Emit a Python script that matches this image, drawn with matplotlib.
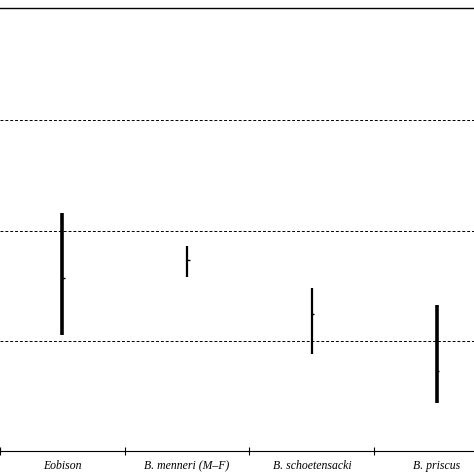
import matplotlib.pyplot as plt

# range bars (min, max) and mean marks per taxon
taxa = ["Eobison", "B. menneri (M\u2013F)", "B. schoetensacki", "B. priscus"]
lows = [1.055, 1.58, 0.88, 0.44]
highs = [2.155, 1.86, 1.48, 1.32]
means = [1.57, 1.73, 1.24, 0.73]
widths = [2.6, 1.6, 1.6, 2.6]
grid_levels = [1, 2, 3]

fig = plt.figure(figsize=(4.74, 4.74), dpi=100)
ax = fig.add_axes([0.0, 0.0485, 1.0, 0.935])
xpos = [i + 0.5 for i in range(len(taxa))]

for lv in grid_levels:
    ax.axhline(lv, color="black", lw=0.7, ls=(0, (3, 2)), zorder=1)

for x, lo, hi, m, w in zip(xpos, lows, highs, means, widths):
    ax.vlines(x, lo, hi, color="black", lw=w, zorder=3)
    ax.hlines(m, x, x + 0.02, color="black", lw=1, zorder=3)

ax.set_xlim(0, 3.8)
ax.set_ylim(0, 4.02)
ax.set_yticks([])
ax.set_xticks([0, 1, 2, 3])
ax.set_xticklabels([])
ax.tick_params(axis="x", direction="inout", length=6, width=0.8)
for x, t in zip(xpos, taxa):
    ax.text(x, -0.08, t, ha="center", va="top", fontsize=8.5,
            family="Liberation Serif", style="italic", transform=ax.transData)
ax.spines["left"].set_visible(False)
ax.spines["right"].set_visible(False)
ax.spines["top"].set_linewidth(1.0)
ax.spines["bottom"].set_linewidth(0.8)

fig.savefig("out.png", dpi=100)
